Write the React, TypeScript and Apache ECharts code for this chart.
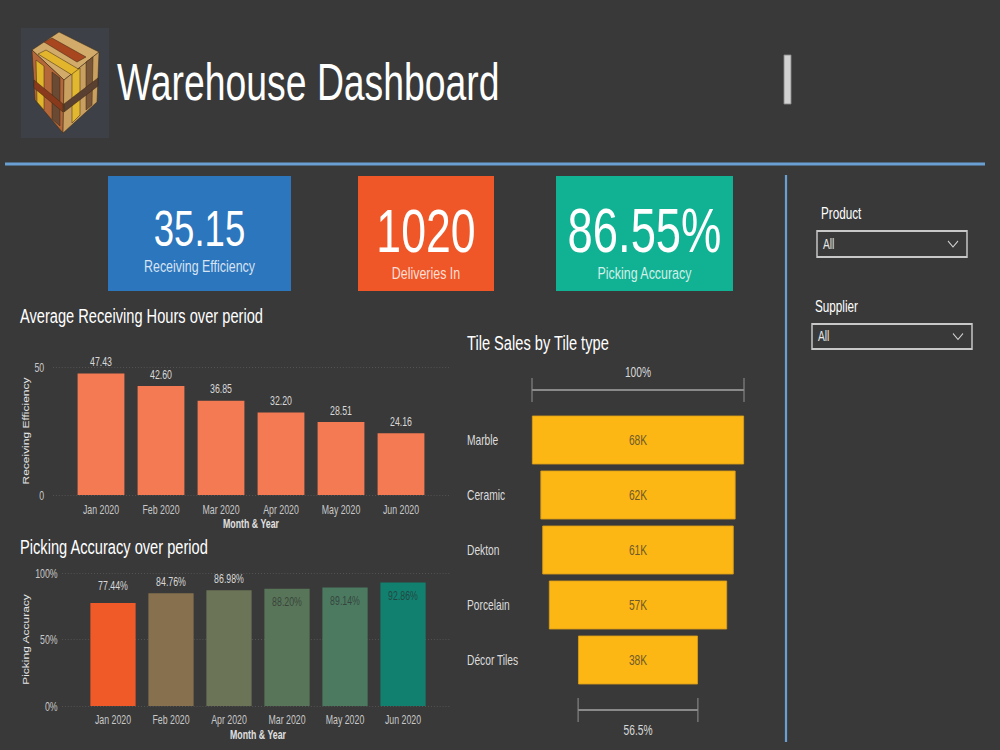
import React, { useEffect, useRef } from "react";
import * as echarts from "echarts";

// ---------- data ----------
const kpiValues = ["35.15", "1020", "86.55%"];
const kpiLabels = ["Receiving Efficiency", "Deliveries In", "Picking Accuracy"];
const kpiColors = ["#2b76bd", "#ef5728", "#11b294"];

const recvMonths = ["Jan 2020", "Feb 2020", "Mar 2020", "Apr 2020", "May 2020", "Jun 2020"];
const recvHours = [47.43, 42.6, 36.85, 32.2, 28.51, 24.16];

const pickMonths = ["Jan 2020", "Feb 2020", "Apr 2020", "Mar 2020", "May 2020", "Jun 2020"];
const pickAccuracy = [77.44, 84.76, 86.98, 88.2, 89.14, 92.86];
const pickColors = ["#f05a28", "#86704e", "#6b7457", "#587559", "#4b7a61", "#11806f"];
const pickLabelInside = [false, false, false, true, true, true];

const tileTypes = ["Marble", "Ceramic", "Dekton", "Porcelain", "Décor Tiles"];
const tileSales = [67.6, 62.2, 61.0, 56.8, 38.2];

const slicerNames = ["Product", "Supplier"];

// ---------- layout helpers ----------
const SX = 1.366; // the reference canvas is horizontally condensed
const X = (x: number) => x * SX;
const FONT = "'Liberation Sans', Arial, sans-serif";
const BG = "#393939";
const GRID_LINE = "#626262";
const AXIS_TEXT = "#c8c8c8";

export default function App() {
  const ref = useRef<HTMLDivElement>(null);

  useEffect(() => {
    if (!ref.current) return;
    const chart = echarts.init(ref.current, null, { renderer: "svg" });

    const tileMax = Math.max(...tileSales);
    const tileOffset = tileSales.map((v) => (tileMax - v) / 2);

    const graphics: any[] = [];
    // logo box and cube
    graphics.push({ type: "rect", shape: { x: X(21), y: 28, width: X(88), height: 110 }, style: { fill: "#3d4047" } });
    const cube = [
      { pts: [[32, 50], [59, 32], [99, 52], [64, 80]], c: "#d2ab6a" },
      { pts: [[32, 50], [64, 80], [63, 133], [35, 100]], c: "#b4683a" },
      { pts: [[64, 80], [99, 52], [97, 102], [63, 133]], c: "#c9a060" },
      { pts: [[44, 42], [52, 38], [86, 57], [77, 62]], c: "#a8461f" },
      { pts: [[38, 54], [46, 50], [80, 70], [72, 75]], c: "#e2b52c" },
      { pts: [[36, 60], [44, 66], [44, 110], [37, 102]], c: "#e0b52a" },
      { pts: [[52, 72], [60, 78], [60, 126], [52, 119]], c: "#6b4a33" },
      { pts: [[72, 74], [80, 68], [80, 115], [72, 123]], c: "#e2b830" },
      { pts: [[86, 62], [93, 57], [92, 105], [86, 110]], c: "#7a5638" },
      { pts: [[34, 80], [63, 104], [63, 112], [34, 88]], c: "#8a3a1c" },
      { pts: [[64, 104], [98, 78], [98, 86], [64, 112]], c: "#5a4030" },
    ];
    cube.forEach((p) =>
      graphics.push({ type: "polygon", shape: { points: p.pts.map((q) => [X(q[0]), q[1]]) }, style: { fill: p.c, stroke: "rgba(60,40,20,0.6)", lineWidth: 1 } })
    );
    // title
    graphics.push({ type: "text", x: X(117), y: 82, style: { text: "Warehouse Dashboard", fill: "#ffffff", font: `51px ${FONT}`, textVerticalAlign: "middle" } });
    // small gray bar
    graphics.push({ type: "rect", shape: { x: X(784), y: 55, width: X(7), height: 49 }, style: { fill: "#d2d2d2", stroke: "#8a8a8a", lineWidth: 1 } });
    // separators
    graphics.push({ type: "line", shape: { x1: X(5), y1: 164, x2: X(985), y2: 164 }, style: { stroke: "#6a9fd4", lineWidth: 3 } });
    graphics.push({ type: "line", shape: { x1: X(786), y1: 175, x2: X(786), y2: 742 }, style: { stroke: "#6a9fd4", lineWidth: 3 } });

    // KPI cards
    const cards = [
      { x: 108, w: 183, vy: 228, ly: 266, fs: 50 },
      { x: 358, w: 136, vy: 231, ly: 273, fs: 61 },
      { x: 556, w: 177, vy: 231, ly: 273, fs: 62 },
    ];
    cards.forEach((c, i) => {
      graphics.push({ type: "rect", shape: { x: X(c.x), y: 176, width: X(c.w), height: 115 }, style: { fill: kpiColors[i] } });
      graphics.push({ type: "text", x: X(c.x + c.w / 2), y: c.vy, style: { text: kpiValues[i], fill: "#ffffff", font: `${c.fs}px ${FONT}`, textAlign: "center", textVerticalAlign: "middle" } });
      graphics.push({ type: "text", x: X(c.x + c.w / 2), y: c.ly, style: { text: kpiLabels[i], fill: "rgba(255,255,255,0.82)", font: `17px ${FONT}`, textAlign: "center", textVerticalAlign: "middle" } });
    });

    // chart titles
    graphics.push({ type: "text", x: X(20), y: 316, style: { text: "Average Receiving Hours over period", fill: "#ffffff", font: `20px ${FONT}`, textVerticalAlign: "middle" } });
    graphics.push({ type: "text", x: X(20), y: 547, style: { text: "Picking Accuracy over period", fill: "#ffffff", font: `20px ${FONT}`, textVerticalAlign: "middle" } });
    graphics.push({ type: "text", x: X(467), y: 343, style: { text: "Tile Sales by Tile type", fill: "#ffffff", font: `20px ${FONT}`, textVerticalAlign: "middle" } });

    // slicers
    const slicers = [
      { lx: 821, ly: 213, bx: 817, by: 231, bw: 150, bh: 26 },
      { lx: 815, ly: 306, bx: 812, by: 324, bw: 160, bh: 25 },
    ];
    slicers.forEach((s, i) => {
      graphics.push({ type: "text", x: X(s.lx), y: s.ly, style: { text: slicerNames[i], fill: "#ffffff", font: `16px ${FONT}`, textVerticalAlign: "middle" } });
      graphics.push({ type: "rect", shape: { x: X(s.bx), y: s.by, width: X(s.bw), height: s.bh }, style: { fill: "none", stroke: "#c8c8c8", lineWidth: 2 } });
      graphics.push({ type: "text", x: X(s.bx + 6), y: s.by + s.bh / 2, style: { text: "All", fill: "#e8e8e8", font: `14px ${FONT}`, textVerticalAlign: "middle" } });
      const cx = s.bx + s.bw - 14;
      const cy = s.by + s.bh / 2;
      graphics.push({ type: "polyline", shape: { points: [[X(cx - 5), cy - 3], [X(cx), cy + 3], [X(cx + 5), cy - 3]] }, style: { stroke: "#d0d0d0", lineWidth: 1.3, fill: "none" } });
    });

    const dotted = { show: true, lineStyle: { color: GRID_LINE, type: [1, 3] as any, width: 1 } };
    const valueLabel = { color: "#d8d8d8", fontSize: 12, fontFamily: FONT };

    const option: any = {
      animation: false,
      backgroundColor: BG,
      textStyle: { fontFamily: FONT },
      grid: [
        // 0: receiving bars
        { left: X(71), width: X(360), top: 367, height: 128 },
        // 1: receiving gridlines + y labels
        { left: X(53), width: X(397), top: 367, height: 128 },
        // 2: picking bars
        { left: X(84), width: X(348), top: 573, height: 133 },
        // 3: picking gridlines + y labels
        { left: X(62), width: X(388), top: 573, height: 133 },
        // 4: tile funnel
        { left: X(532), width: X(212), top: 412.5, height: 275 },
      ],
      xAxis: [
        {
          gridIndex: 0, type: "category", data: recvMonths,
          axisLine: { show: false }, axisTick: { show: false },
          axisLabel: { color: AXIS_TEXT, fontSize: 12, margin: 8 },
          name: "Month & Year", nameLocation: "middle", nameGap: 22,
          nameTextStyle: { color: "#e0e0e0", fontSize: 12, fontWeight: "bold" },
        },
        { gridIndex: 1, type: "value", show: false, min: 0, max: 1 },
        {
          gridIndex: 2, type: "category", data: pickMonths,
          axisLine: { show: false }, axisTick: { show: false },
          axisLabel: { color: AXIS_TEXT, fontSize: 12, margin: 7 },
          name: "Month & Year", nameLocation: "middle", nameGap: 22,
          nameTextStyle: { color: "#e0e0e0", fontSize: 12, fontWeight: "bold" },
        },
        { gridIndex: 3, type: "value", show: false, min: 0, max: 1 },
        { gridIndex: 4, type: "value", show: false, min: 0, max: tileMax },
      ],
      yAxis: [
        { gridIndex: 0, type: "value", min: 0, max: 50, interval: 50, show: false },
        {
          gridIndex: 1, type: "value", min: 0, max: 50, interval: 50,
          axisLine: { show: false }, axisTick: { show: false },
          axisLabel: { color: AXIS_TEXT, fontSize: 12, margin: 12 },
          splitLine: dotted,
          name: "Receiving Efficiency", nameLocation: "middle", nameGap: 32, nameRotate: 90,
          nameTextStyle: { color: "#e6e6e6", fontSize: 12 },
        },
        { gridIndex: 2, type: "value", min: 0, max: 100, interval: 50, show: false },
        {
          gridIndex: 3, type: "value", min: 0, max: 100, interval: 50,
          axisLine: { show: false }, axisTick: { show: false },
          axisLabel: { color: AXIS_TEXT, fontSize: 12, margin: 6, formatter: "{value}%" },
          splitLine: dotted,
          name: "Picking Accuracy", nameLocation: "middle", nameGap: 44, nameRotate: 90,
          nameTextStyle: { color: "#e6e6e6", fontSize: 12 },
        },
        {
          gridIndex: 4, type: "category", data: tileTypes, inverse: true,
          axisLine: { show: false }, axisTick: { show: false },
          axisLabel: { color: "#dcdcdc", fontSize: 14, align: "left", margin: X(65) },
        },
      ],
      series: [
        {
          type: "bar", xAxisIndex: 0, yAxisIndex: 0, data: recvHours,
          barCategoryGap: "22%",
          itemStyle: { color: "#f47a54" },
          label: { show: true, position: "top", distance: 6, ...valueLabel, formatter: (p: any) => p.value.toFixed(2) },
        },
        {
          type: "bar", xAxisIndex: 2, yAxisIndex: 2,
          barCategoryGap: "22%",
          data: pickAccuracy.map((v, i) => ({
            value: v,
            itemStyle: { color: pickColors[i] },
            label: pickLabelInside[i]
              ? { position: "insideTop", distance: 7, color: "rgba(45,45,45,0.7)" }
              : { position: "top", distance: i === 0 ? 12 : 6, color: "#d8d8d8" },
          })),
          label: { show: true, fontSize: 12, fontFamily: FONT, formatter: (p: any) => p.value.toFixed(2) + "%" },
        },
        {
          type: "bar", xAxisIndex: 4, yAxisIndex: 4, stack: "tile", data: tileOffset,
          itemStyle: { color: "rgba(0,0,0,0)" }, barWidth: 49, silent: true,
        },
        {
          type: "bar", xAxisIndex: 4, yAxisIndex: 4, stack: "tile", data: tileSales, barWidth: 49,
          itemStyle: { color: "#fdb714", borderColor: "#d99d18", borderWidth: 1 },
          label: { show: true, position: "inside", color: "#6f5a2c", fontSize: 14, formatter: (p: any) => Math.round(p.value) + "K" },
        },
      ],
      graphic: graphics,
    };

    chart.setOption(option);

    // funnel brackets, placed through the chart's own scale
    const last = tileSales.length - 1;
    const topL = chart.convertToPixel({ xAxisIndex: 4, yAxisIndex: 4 } as any, [0, 0]) as number[];
    const topR = chart.convertToPixel({ xAxisIndex: 4, yAxisIndex: 4 } as any, [tileMax, 0]) as number[];
    const botL = chart.convertToPixel({ xAxisIndex: 4, yAxisIndex: 4 } as any, [tileOffset[last], last]) as number[];
    const botR = chart.convertToPixel({ xAxisIndex: 4, yAxisIndex: 4 } as any, [tileOffset[last] + tileSales[last], last]) as number[];
    const bracket = (x1: number, x2: number, y: number, txt: string, ty: number) => [
      { type: "line", shape: { x1, y1: y, x2, y2: y }, style: { stroke: "#8a8a8a", lineWidth: 2 } },
      { type: "line", shape: { x1, y1: y - 12, x2: x1, y2: y + 12 }, style: { stroke: "#8a8a8a", lineWidth: 1.5 } },
      { type: "line", shape: { x1: x2, y1: y - 12, x2, y2: y + 12 }, style: { stroke: "#8a8a8a", lineWidth: 1.5 } },
      { type: "text", x: (x1 + x2) / 2, y: ty, style: { text: txt, fill: "#d8d8d8", font: `14px ${FONT}`, textAlign: "center", textVerticalAlign: "middle" } },
    ];
    const pctLast = ((tileSales[last] / tileMax) * 100).toFixed(1) + "%";
    const extra = [
      ...bracket(topL[0], topR[0], topL[1] - 50, "100%", topL[1] - 68),
      ...bracket(botL[0], botR[0], botL[1] + 50, pctLast, botL[1] + 70),
    ];
    chart.setOption({ graphic: [...graphics, ...extra] });

    return () => chart.dispose();
  }, []);

  return (
    <div style={{ position: "fixed", left: 0, top: 0, width: 1000, height: 750, overflow: "hidden", background: BG }}>
      <div ref={ref} style={{ width: 1366, height: 750, transform: `scaleX(${1 / SX})`, transformOrigin: "0 0" }} />
    </div>
  );
}
